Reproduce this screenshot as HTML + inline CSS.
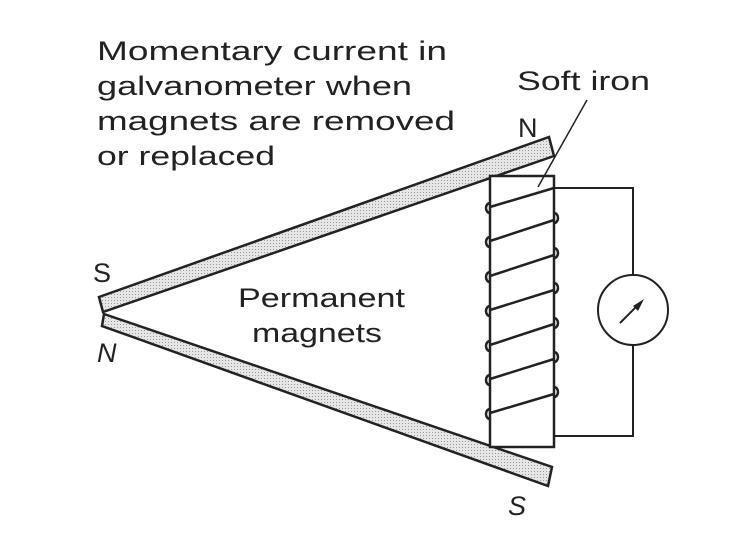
<!DOCTYPE html><html><head><style>body{margin:0;background:#fff}</style></head><body>
<svg width="744" height="532" xmlns="http://www.w3.org/2000/svg" font-family="Liberation Sans, sans-serif" fill="#222">
<defs><pattern id="d" width="3" height="3" patternUnits="userSpaceOnUse"><rect width="3" height="3" fill="#e6e6e6"/><rect width="1" height="1" fill="#999"/></pattern></defs>
<g stroke="#222" stroke-width="2.5">
<polygon points="99,297 549,137 554,156 103,312" fill="url(#d)"/>
<polygon points="104,314 552,467 548,486 102,326" fill="url(#d)"/>
<rect x="490" y="176" width="64" height="271" fill="#fff"/>
<polyline points="554,188 633,188 633,275" fill="none" stroke-width="2"/>
<polyline points="554,436 633,436 633,345" fill="none" stroke-width="2"/>
<circle cx="633" cy="310" r="35" fill="#fff" stroke-width="2"/>
<line x1="620" y1="323" x2="640" y2="303" stroke-width="2"/>
<line x1="538" y1="187" x2="587" y2="100" stroke-width="1.5"/>
</g>
<polygon points="644,299 633,306 638,311" fill="#222"/>
<g stroke="#222" stroke-width="2.5" fill="none">
<path d="M490,207 L554,188"/><path d="M490,241 L554,220"/><path d="M490,276 L554,255"/><path d="M490,310 L554,290"/><path d="M490,345 L554,324"/><path d="M490,379 L554,359"/><path d="M490,413 L554,394"/>
<path d="M490,203 a4,5 0 0 0 0,10"/><path d="M490,237 a4,5 0 0 0 0,10"/><path d="M490,272 a4,5 0 0 0 0,10"/><path d="M490,306 a4,5 0 0 0 0,10"/><path d="M490,341 a4,5 0 0 0 0,10"/><path d="M490,375 a4,5 0 0 0 0,10"/><path d="M490,409 a4,5 0 0 0 0,10"/>
<path d="M554,213 a4,5 0 0 1 0,10"/><path d="M554,248 a4,5 0 0 1 0,10"/><path d="M554,283 a4,5 0 0 1 0,10"/><path d="M554,318 a4,5 0 0 1 0,10"/><path d="M554,352 a4,5 0 0 1 0,10"/><path d="M554,387 a4,5 0 0 1 0,10"/>
</g>
<g font-size="27">
<text x="97" y="60" textLength="350" lengthAdjust="spacingAndGlyphs">Momentary current in</text>
<text x="97" y="95" textLength="315" lengthAdjust="spacingAndGlyphs">galvanometer when</text>
<text x="97" y="130" textLength="358" lengthAdjust="spacingAndGlyphs">magnets are removed</text>
<text x="97" y="165" textLength="178" lengthAdjust="spacingAndGlyphs">or replaced</text>
<text x="517" y="90" textLength="133" lengthAdjust="spacingAndGlyphs">Soft iron</text>
<text x="238" y="307" textLength="167" lengthAdjust="spacingAndGlyphs">Permanent</text>
<text x="252" y="342" textLength="130" lengthAdjust="spacingAndGlyphs">magnets</text>
<text x="518" y="137">N</text>
<text x="93" y="282">S</text>
<text x="97" y="362" font-style="italic">N</text>
<text x="508" y="515" font-style="italic">S</text>
</g>
</svg></body></html>
